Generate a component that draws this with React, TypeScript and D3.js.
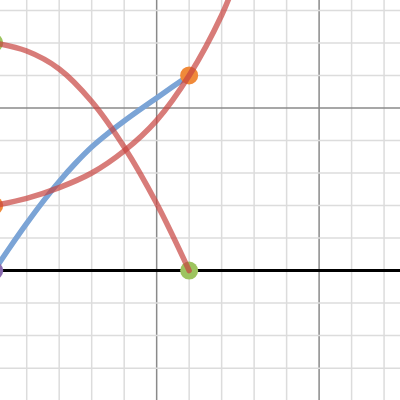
import * as d3 from 'd3';
import { useEffect, useRef } from 'react';

// grid / axis ranges (graph units)
const xDomain = [0.178, 12.49];
const yDomain = [-3.98, 8.32];
const majorStep = 5;

// blue curve (rising, flattening)
const blueX = [0, 0.5, 1, 1.5, 2, 2.5, 3, 3.5, 4, 4.5, 5, 5.5, 6];
const blueY = [0, 0.74, 1.45, 2.12, 2.74, 3.3, 3.8, 4.22, 4.6, 4.96, 5.31, 5.66, 6.0];

// red curve, growing
const redAX = [0, 1, 2, 3, 4, 5, 6, 7, 7.5];
const redAY = [2.0, 2.22, 2.55, 3.0, 3.68, 4.62, 6.0, 7.85, 9.1];

// red curve, falling
const redBX = [0, 1, 2, 3, 4, 5, 6];
const redBY = [7, 6.75, 6.2, 5.2, 3.8, 2.06, 0];

// marked points
const pointX = [0, 6, 0, 0, 6];
const pointY = [7, 6, 2, 0, 0];
const pointColors = ['#9dc45f', '#f08a3a', '#f08a3a', '#8a6bb0', '#9dc45f'];

const W = 400;
const H = 400;

function App() {
  const svgRef = useRef<SVGSVGElement>(null);

  useEffect(() => {
    document.body.style.margin = '0';
    const svg = d3.select(svgRef.current);
    svg.selectAll('*').remove();

    const x = d3.scaleLinear().domain(xDomain).range([0, W]);
    const y = d3.scaleLinear().domain(yDomain).range([H, 0]);

    // minor + major grid
    const xt = d3.range(Math.ceil(xDomain[0]), Math.floor(xDomain[1]) + 1);
    const yt = d3.range(Math.ceil(yDomain[0]), Math.floor(yDomain[1]) + 1);

    const grid = svg.append('g');
    grid
      .selectAll('.vx')
      .data(xt.filter((d) => d !== 0))
      .enter()
      .append('line')
      .attr('x1', (d) => x(d))
      .attr('x2', (d) => x(d))
      .attr('y1', 0)
      .attr('y2', H)
      .attr('stroke', (d) => (d % majorStep === 0 ? '#8a8a8a' : '#dcdcdc'))
      .attr('stroke-width', 1.5);
    grid
      .selectAll('.hy')
      .data(yt.filter((d) => d !== 0))
      .enter()
      .append('line')
      .attr('x1', 0)
      .attr('x2', W)
      .attr('y1', (d) => y(d))
      .attr('y2', (d) => y(d))
      .attr('stroke', (d) => (d % majorStep === 0 ? '#8a8a8a' : '#dcdcdc'))
      .attr('stroke-width', 1.5);

    // x axis
    svg
      .append('line')
      .attr('x1', 0)
      .attr('x2', W)
      .attr('y1', y(0))
      .attr('y2', y(0))
      .attr('stroke', '#000')
      .attr('stroke-width', 3);

    const line = d3
      .line<number>()
      .x((d) => x(d))
      .curve(d3.curveCatmullRom);

    const drawCurve = (xs: number[], ys: number[], color: string) => {
      svg
        .append('path')
        .attr('d', line.y((_d, i) => y(ys[i]))(xs))
        .attr('fill', 'none')
        .attr('stroke', color)
        .attr('stroke-width', 5.5)
        .attr('stroke-linecap', 'round');
    };

    drawCurve(blueX, blueY, '#7ba4d6');

    svg
      .selectAll('.pt')
      .data(pointX)
      .enter()
      .append('circle')
      .attr('cx', (d) => x(d))
      .attr('cy', (_d, i) => y(pointY[i]))
      .attr('r', 9)
      .attr('fill', (_d, i) => pointColors[i]);

    drawCurve(redAX, redAY, 'rgba(199,68,64,0.7)');
    drawCurve(redBX, redBY, 'rgba(199,68,64,0.7)');
  }, []);

  return <svg ref={svgRef} width={W} height={H} style={{ display: 'block' }} />;
}

export default App;
